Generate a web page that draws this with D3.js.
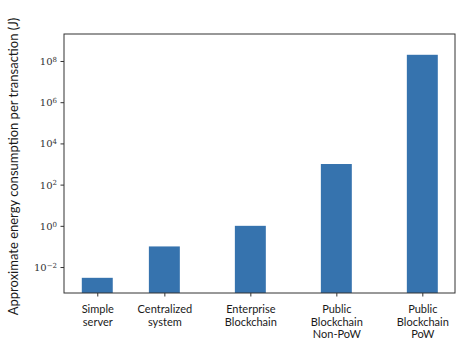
<!DOCTYPE html>
<html>
<head>
<meta charset="utf-8">
<script src="https://cdn.jsdelivr.net/npm/d3@7"></script>
<style>
  body { margin: 0; background: #fff; }
  .x-label { font-family: Lato, sans-serif; font-size: 11px; fill: #1a1a1a; }
  .y-tick { font-family: "DejaVu Serif", serif; font-size: 10px; fill: #333; }
  .y-title { font-family: Lato, sans-serif; font-size: 13px; fill: #1a1a1a; }
</style>
</head>
<body>
<div id="chart"></div>
<script>
// DATA
const categories = [
  ["Simple", "server"],
  ["Centralized", "system"],
  ["Enterprise", "Blockchain"],
  ["Public", "Blockchain", "Non-PoW"],
  ["Public", "Blockchain", "PoW"],
]
const energy = [0.003, 0.1, 1, 1000, 2e8]
const tickExponents = [-2, 0, 2, 4, 6, 8]

// DIMENSIONS
const width = 474
const height = 351
const margin = { top: 34, right: 19, bottom: 58, left: 64 }
// bar slots along x (first gap is narrower in the original)
const slot = [0, 0.78, 1.78, 2.78, 3.78]
const barWidth = 0.36

const svg = d3.select("#chart")
  .append("svg")
  .attr("width", width)
  .attr("height", height)

const xScale = d3.scaleLinear()
  .domain([-0.387, 4.16])
  .range([margin.left, width - margin.right])

const yScale = d3.scaleLog()
  .domain([Math.pow(10, -3.26), Math.pow(10, 9.31)])
  .range([height - margin.bottom, margin.top])

// BARS
svg.append("g")
  .selectAll("rect")
  .data(energy)
  .join("rect")
    .attr("x", (d, i) => xScale(slot[i] - barWidth / 2))
    .attr("width", xScale(barWidth) - xScale(0))
    .attr("y", d => yScale(d))
    .attr("height", d => yScale.range()[0] - yScale(d))
    .attr("fill", "#3673ae")

// Y AXIS
const yAxis = svg.append("g")
  .attr("transform", `translate(${margin.left},0)`)
  .call(d3.axisLeft(yScale)
    .tickValues(tickExponents.map(e => Math.pow(10, e)))
    .tickSize(3.5)
    .tickFormat(""))
yAxis.select(".domain").remove()
yAxis.selectAll("line").attr("stroke", "#333")

yAxis.selectAll(".tick")
  .append("text")
  .attr("class", "y-tick")
  .attr("x", -7)
  .attr("dy", "0.35em")
  .attr("text-anchor", "end")
  .attr("fill", "#333")
  .each(function(d, i) {
    const t = d3.select(this)
    t.append("tspan").text("10")
    t.append("tspan")
      .attr("dy", "-0.45em")
      .attr("font-size", "7px")
      .text(tickExponents[i] < 0 ? "\u2212" + Math.abs(tickExponents[i]) : tickExponents[i])
  })

// X AXIS
const xAxis = svg.append("g")
  .attr("transform", `translate(0,${height - margin.bottom})`)
  .call(d3.axisBottom(xScale)
    .tickValues(slot)
    .tickSize(3.5)
    .tickFormat(""))
xAxis.select(".domain").remove()
xAxis.selectAll("line").attr("stroke", "#333")

xAxis.selectAll(".tick")
  .append("text")
  .attr("class", "x-label")
  .attr("text-anchor", "middle")
  .each(function(d, i) {
    const t = d3.select(this)
    categories[i].forEach((line, j) => {
      t.append("tspan")
        .attr("x", 0)
        .attr("y", 20 + j * 12.5)
        .text(line)
    })
  })

// FRAME
svg.append("rect")
  .attr("x", margin.left)
  .attr("y", margin.top)
  .attr("width", width - margin.left - margin.right)
  .attr("height", height - margin.top - margin.bottom)
  .attr("fill", "none")
  .attr("stroke", "#333")
  .attr("stroke-width", 1)

// Y TITLE
svg.append("text")
  .attr("class", "y-title")
  .attr("transform", `translate(18,${(margin.top + height - margin.bottom) / 2 + 3}) rotate(-90)`)
  .attr("text-anchor", "middle")
  .text("Approximate energy consumption per transaction (J)")
</script>
</body>
</html>
